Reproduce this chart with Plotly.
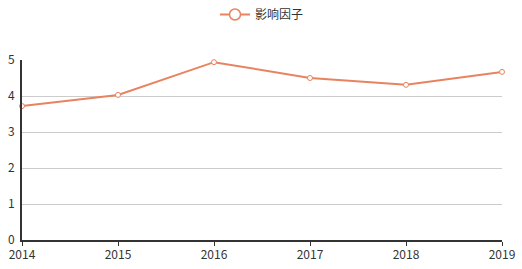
import plotly.graph_objects as go

years = [2014, 2015, 2016, 2017, 2018, 2019]
impact = [3.72, 4.03, 4.94, 4.5, 4.31, 4.67]
series_name = "影响因子"

color = "#E8825F"
font = "Noto Sans CJK SC, Microsoft YaHei, sans-serif"

fig = go.Figure()
fig.add_trace(go.Scatter(
    x=years, y=impact, name=series_name, mode="lines+markers",
    line=dict(color=color, width=2),
    marker=dict(symbol="circle", size=5, color="white", line=dict(color=color, width=1)),
    cliponaxis=False, showlegend=False,
))
# legend-only entry with larger symbol, as in the reference
fig.add_trace(go.Scatter(
    x=[None], y=[None], name=series_name, mode="lines+markers",
    line=dict(color=color, width=2),
    marker=dict(symbol="circle", size=11, color="white", line=dict(color=color, width=1.5)),
    showlegend=True,
))

fig.update_layout(
    width=522, height=269,
    margin=dict(l=22, r=20, t=60, b=29),
    paper_bgcolor="white", plot_bgcolor="white",
    font=dict(family=font, size=12, color="#333"),
    showlegend=True,
    legend=dict(orientation="h", x=0.5, xanchor="center", y=1.0, yref="container",
                yanchor="top", font=dict(size=12, color="#333"), itemwidth=30),
    xaxis=dict(range=[2014, 2019], tickmode="array", tickvals=years,
               ticktext=[str(y) for y in years], showgrid=False, automargin=False,
               showline=True, linecolor="#333", linewidth=2,
               ticks="outside", ticklen=4, tickcolor="#333", zeroline=False,
               ticklabelstandoff=-1,
               tickfont=dict(size=12, color="#333")),
    yaxis=dict(range=[0, 5], tickvals=[0, 1, 2, 3, 4, 5], showgrid=True, automargin=False,
               gridcolor="#ccc", gridwidth=1, showline=True, linecolor="#333",
               linewidth=2, ticks="", zeroline=False, ticklabelstandoff=3,
               tickfont=dict(size=12, color="#333")),
)

fig.write_html("out.html")
